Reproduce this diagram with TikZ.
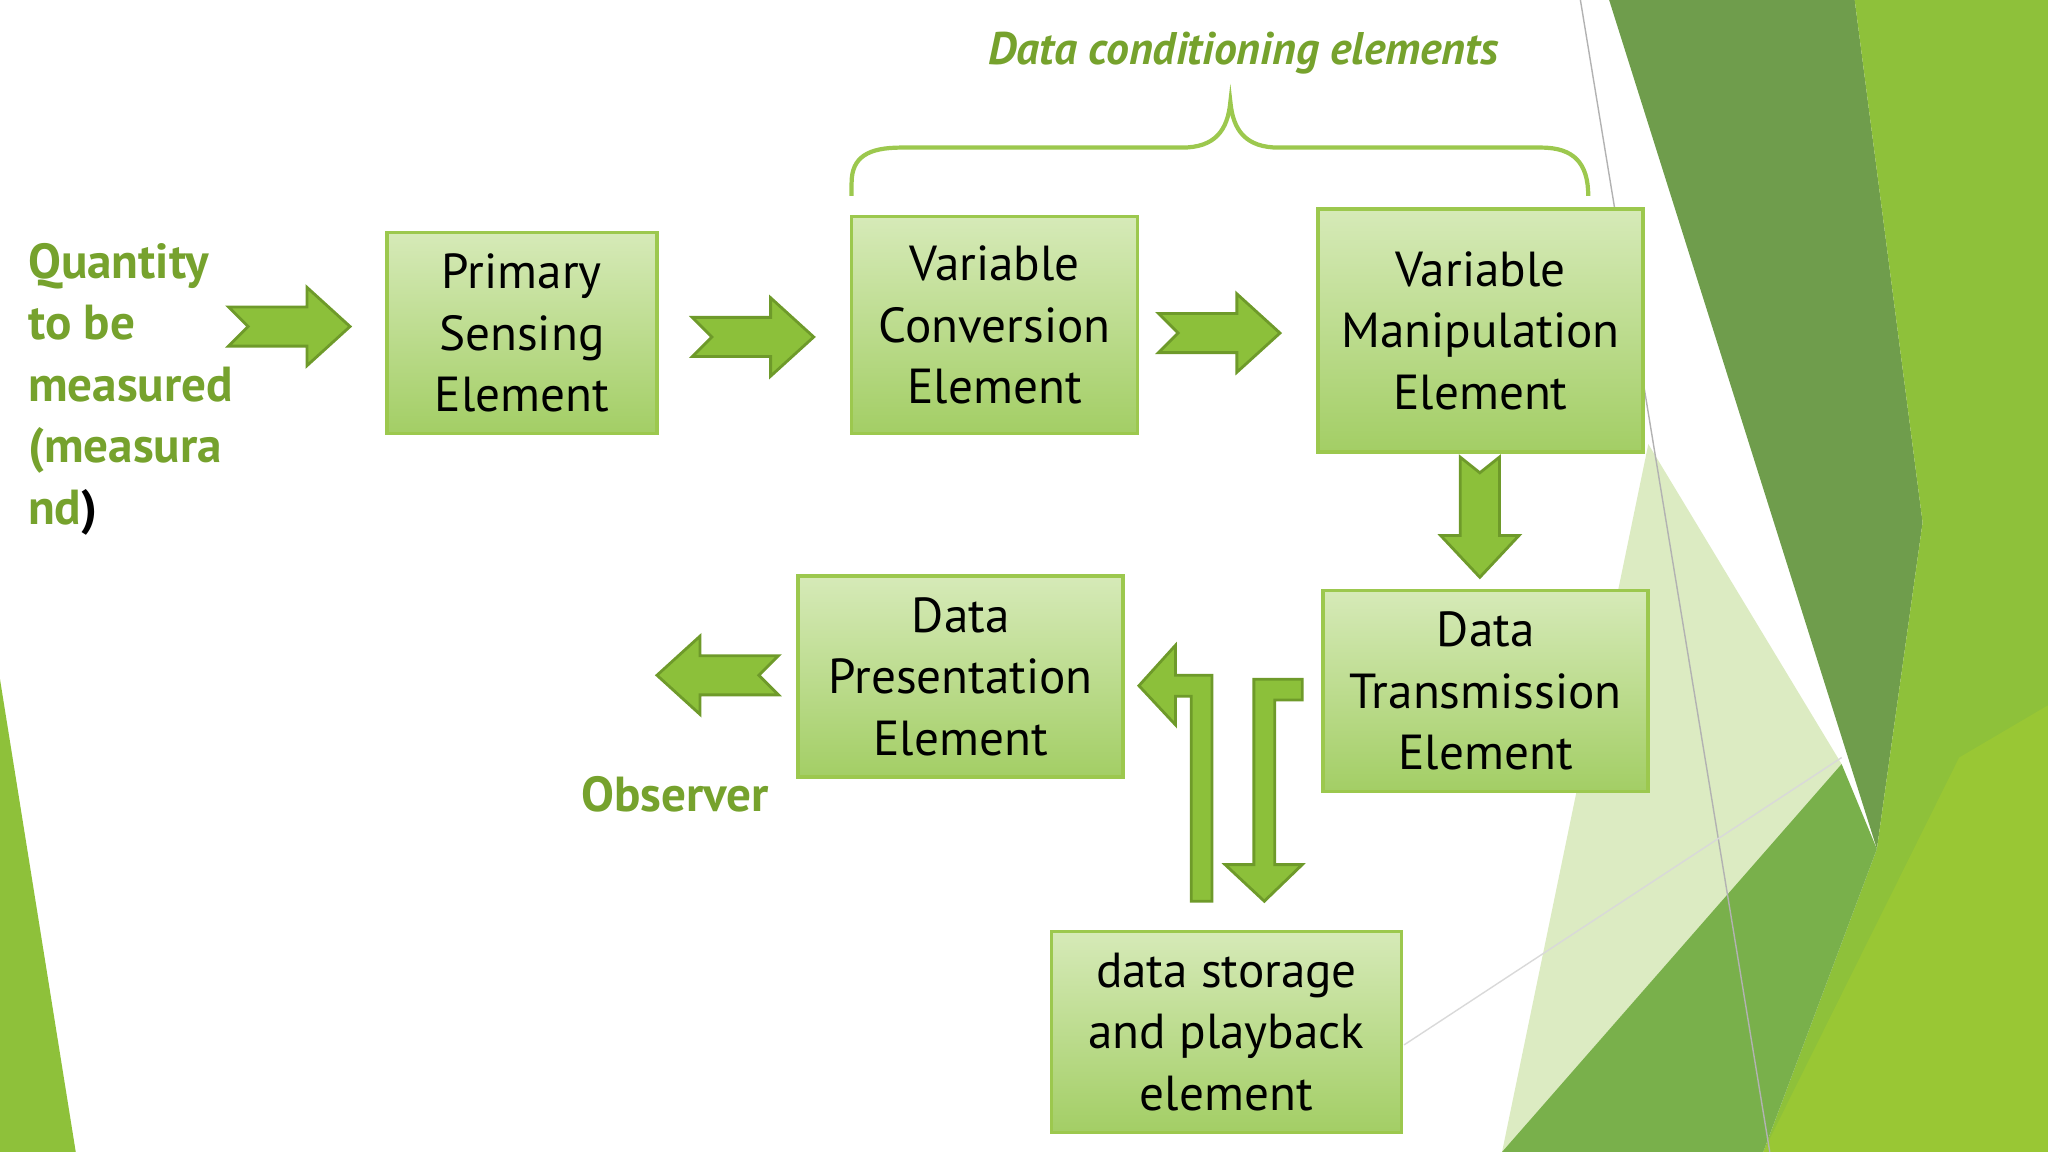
\documentclass[tikz,border=0pt]{standalone}
\usepackage{fontspec}
\setmainfont{PT Sans}
\usetikzlibrary{positioning}
\definecolor{boxtop}{HTML}{D6EAB8}
\definecolor{boxbot}{HTML}{A3CE65}
\definecolor{boxline}{HTML}{9CC84E}
\definecolor{arrowfill}{HTML}{8CC03A}
\definecolor{arrowline}{HTML}{6E9A2A}
\definecolor{labelgreen}{HTML}{76A22D}
\definecolor{darkband}{HTML}{6F9D4C}
\definecolor{brightgreen}{HTML}{8EC13A}
\definecolor{palegreen}{HTML}{DCEBC2}
\definecolor{midgreen}{HTML}{79B04B}
\begin{document}
\begin{tikzpicture}[x=0.013061cm,y=-0.013061cm]
    \tikzstyle{block}=[rectangle,draw=boxline,line width=1pt,top color=boxtop,bottom color=boxbot,
        align=center,font=\fontsize{14}{17.5}\selectfont,inner sep=2pt]
    \tikzstyle{fat arrow}=[fill=arrowfill,draw=arrowline,line width=0.8pt,line join=miter]
    \tikzstyle{green text}=[text=labelgreen,font=\fontsize{14}{17.5}\selectfont\bfseries,align=left]

    % Background
    \useasboundingbox (0,0) rectangle (1568,882);
    \fill[darkband] (1232,0) -- (1420,0) -- (1472,400) -- (1437,650) -- cycle;
    \fill[brightgreen] (1420,0) -- (1568,0) -- (1568,882) -- (1350,882) -- (1437,650) -- (1472,400) -- cycle;
    \fill[palegreen] (1262,340) -- (1410,585) -- (1200,882) -- (1150,882) -- cycle;
    \fill[midgreen] (1150,882) -- (1410,585) -- (1437,650) -- (1350,882) -- cycle;
    \fill[brightgreen!90!yellow] (1350,882) -- (1500,580) -- (1568,540) -- (1568,882) -- cycle;
    \fill[brightgreen] (0,520) -- (0,882) -- (58,882) -- cycle;
    \draw[black!30,line width=0.4pt] (1210,0) -- (1355,882);
    \draw[black!15,line width=0.4pt] (1075,800) -- (1410,580);

    % Draw the blocks
    \node[block,minimum width=2.70cm,minimum height=2.01cm] (primary) at (399.5,255) {Primary\\Sensing\\Element};
    \node[block,minimum width=2.86cm,minimum height=2.17cm] (conversion) at (761.5,249) {Variable\\Conversion\\Element};
    \node[block,minimum width=3.25cm,minimum height=2.43cm] (manipulation) at (1133.5,253) {Variable\\Manipulation\\Element};
    \node[block,minimum width=3.25cm,minimum height=2.01cm] (transmission) at (1137.5,529) {Data\\Transmission\\Element};
    \node[block,minimum width=3.25cm,minimum height=2.01cm] (presentation) at (735.5,518) {Data\\Presentation\\Element};
    \node[block,minimum width=3.50cm,minimum height=2.01cm] (storage) at (939,790) {data storage\\and playback\\element};

    % Annotate
    \node[green text] (measurand) at (100,298) {Quantity\\to be\\measured\\(measura\\nd\textcolor{black}{)}};
    \node[green text] (observer) at (517,608) {Observer};
    \node[text=labelgreen,font=\fontsize{13}{16}\selectfont\bfseries\itshape] (conditioning) at (952,41) {Data conditioning elements};

    % Brace over the conditioning elements
    \draw[boxline,line width=1.2pt] (652,150) -- (652,140) .. controls (652,120) and (665,113) .. (690,113)
        -- (905,113) .. controls (930,113) and (940,100) .. (942,78)
        .. controls (944,100) and (954,113) .. (979,113) -- (1180,113)
        .. controls (1205,113) and (1216,125) .. (1216,150);

    % Block arrows
    \foreach \x / \y in {175/220, 530/228, 887/225}
        \draw[fat arrow] (\x,\y+15) -- ++(60,0) -- ++(0,-15) -- ++(33,30) -- ++(-33,30) -- ++(0,-15)
            -- ++(-60,0) -- ++(15,-15) -- cycle;
    \draw[fat arrow] (1118,350) -- ++(0,60) -- ++(-15,0) -- ++(30,32) -- ++(30,-32) -- ++(-15,0)
        -- ++(0,-60) -- ++(-15,12) -- cycle;
    \draw[fat arrow] (596,502) -- ++(-60,0) -- ++(0,-15) -- ++(-33,30) -- ++(33,30) -- ++(0,-15)
        -- ++(60,0) -- ++(-15,-15) -- cycle;
    \draw[fat arrow] (912,690) -- (928,690) -- (928,517) -- (900,517) -- (900,494) -- (872,525)
        -- (900,555) -- (900,533) -- (912,533) -- cycle;
    \draw[fat arrow] (997,520) -- (960,520) -- (960,662) -- (938,662) -- (968,690) -- (997,662)
        -- (976,662) -- (976,536) -- (997,536) -- cycle;
\end{tikzpicture}
\end{document}
